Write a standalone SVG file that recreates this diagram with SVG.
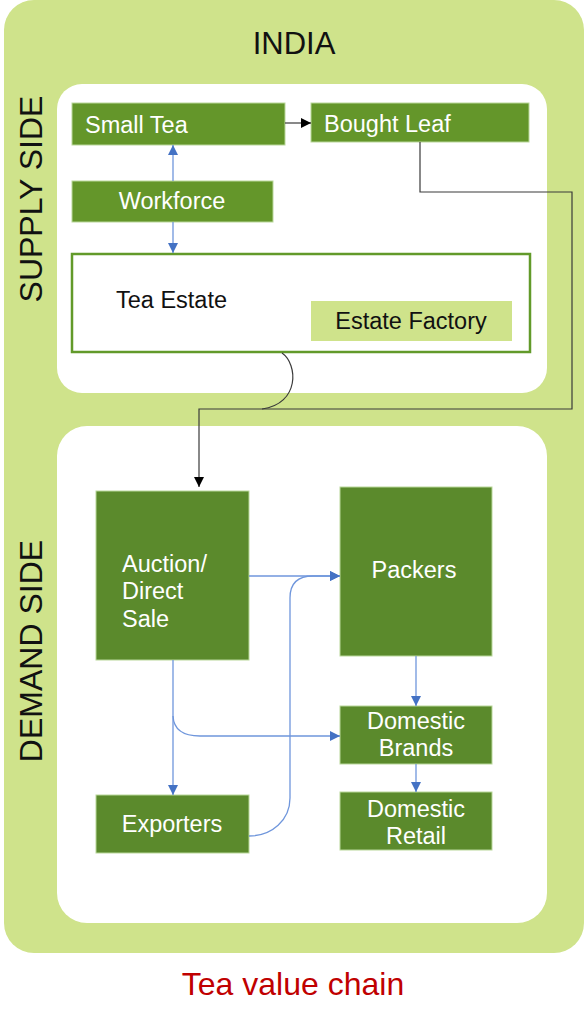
<svg xmlns="http://www.w3.org/2000/svg" width="584" height="1024" viewBox="0 0 584 1024">
<style>
.t{font-family:"Liberation Sans",Arial,sans-serif;font-size:23.5px;}
.w{fill:#ffffff;}
.k{fill:#111111;}
.box1{fill:#64962a;stroke:#b9d79a;stroke-width:1;}
.box2{fill:#5b8a2c;stroke:#b9d79a;stroke-width:1;}
.blue{fill:none;stroke:#6f96dc;stroke-width:1.3;}
.blk{fill:none;stroke:#3a3a3a;stroke-width:1.2;}
</style>
<defs>
<marker id="ab" markerUnits="userSpaceOnUse" markerWidth="10" markerHeight="10" refX="10" refY="5" orient="auto">
<path d="M0,0 L10,5 L0,10 z" fill="#4472c4"/>
</marker>
<marker id="ak" markerUnits="userSpaceOnUse" markerWidth="10" markerHeight="10" refX="10" refY="5" orient="auto">
<path d="M0,0 L10,5 L0,10 z" fill="#000000"/>
</marker>
</defs>
<rect x="0" y="0" width="584" height="1024" fill="#ffffff"/>
<g id="india">
<rect x="4" y="0" width="580" height="953" rx="30" ry="30" fill="#cfe38b"/>
<text class="t k" x="294" y="54" text-anchor="middle" style="font-size:31px">INDIA</text>
</g>
<g id="supply">
<rect x="57" y="84" width="490" height="309" rx="25" ry="25" fill="#ffffff"/>
<text class="t k" transform="translate(42,199) rotate(-90)" text-anchor="middle" style="font-size:32px">SUPPLY SIDE</text>
</g>
<g id="demand">
<rect x="57" y="426" width="490" height="497" rx="30" ry="30" fill="#ffffff"/>
<text class="t k" transform="translate(42,651) rotate(-90)" text-anchor="middle" style="font-size:32px">DEMAND SIDE</text>
</g>
<g id="small-tea">
<rect class="box1" x="72" y="103" width="213" height="42"/>
<text class="t w" x="85" y="133">Small Tea</text>
</g>
<g id="bought-leaf">
<rect class="box1" x="311" y="103" width="218" height="39"/>
<text class="t w" x="324" y="132">Bought Leaf</text>
</g>
<g id="workforce">
<rect class="box1" x="72" y="181" width="201" height="41"/>
<text class="t w" x="172" y="209" text-anchor="middle">Workforce</text>
</g>
<g id="tea-estate">
<rect x="72" y="254" width="458" height="98" fill="#ffffff" stroke="#629a2a" stroke-width="2.5"/>
<text class="t k" x="116" y="308">Tea Estate</text>
</g>
<g id="estate-factory">
<rect x="311" y="301" width="201" height="40" fill="#cfe38b"/>
<text class="t k" x="411" y="329" text-anchor="middle">Estate Factory</text>
</g>
<g id="auction">
<rect class="box2" x="96" y="491" width="153" height="169"/>
<text class="t w" x="122" y="572">Auction/</text>
<text class="t w" x="122" y="599">Direct</text>
<text class="t w" x="122" y="627">Sale</text>
</g>
<g id="packers">
<rect class="box2" x="340" y="487" width="152" height="169"/>
<text class="t w" x="414" y="578" text-anchor="middle">Packers</text>
</g>
<g id="domestic-brands">
<rect class="box2" x="340" y="706" width="152" height="58"/>
<text class="t w" x="416" y="729" text-anchor="middle">Domestic</text>
<text class="t w" x="416" y="756" text-anchor="middle">Brands</text>
</g>
<g id="domestic-retail">
<rect class="box2" x="340" y="792" width="152" height="58"/>
<text class="t w" x="416" y="817" text-anchor="middle">Domestic</text>
<text class="t w" x="416" y="844" text-anchor="middle">Retail</text>
</g>
<g id="exporters">
<rect class="box2" x="96" y="795" width="153" height="58"/>
<text class="t w" x="172" y="832" text-anchor="middle">Exporters</text>
</g>
<g id="connectors">
<path class="blk" d="M285,123 L311,123" marker-end="url(#ak)"/>
<path class="blue" d="M173,181 L173,145" marker-end="url(#ab)"/>
<path class="blue" d="M173,222 L173,253" marker-end="url(#ab)"/>
<path class="blk" d="M420,142 L420,192 L572,192 L572,409 L199,409 L199,487" marker-end="url(#ak)"/>
<path class="blk" d="M282,353 C298,364 300,404 262,409"/>
<path class="blue" d="M249,576 L340,576" marker-end="url(#ab)"/>
<path class="blue" d="M249,836 C272,836 290,820 290,798 L290,598 Q290,576 313,576 L340,576" marker-end="url(#ab)"/>
<path class="blue" d="M173,660 L173,795" marker-end="url(#ab)"/>
<path class="blue" d="M173,716 Q174,736 200,736 L340,736" marker-end="url(#ab)"/>
<path class="blue" d="M416,656 L416,706" marker-end="url(#ab)"/>
<path class="blue" d="M416,764 L416,792" marker-end="url(#ab)"/>
</g>
<text class="t" x="293" y="995" text-anchor="middle" fill="#c00000" style="font-size:32px">Tea value chain</text>
</svg>
